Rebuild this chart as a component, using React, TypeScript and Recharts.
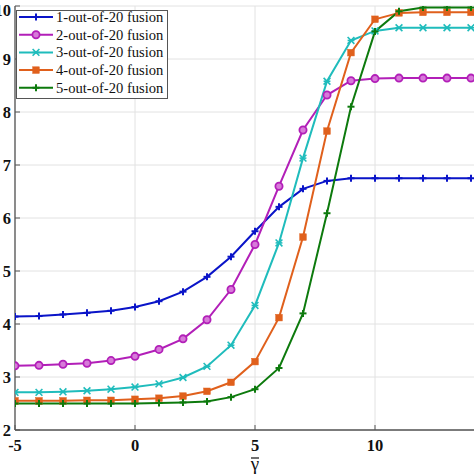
import React from 'react';
import { LineChart, Line, XAxis, YAxis, CartesianGrid } from 'recharts';

const gammaBar = [-5, -4, -3, -2, -1, 0, 1, 2, 3, 4, 5, 6, 7, 8, 9, 10, 11, 12, 13, 14];
const fusion1 = [4.14, 4.15, 4.18, 4.21, 4.25, 4.32, 4.43, 4.61, 4.89, 5.27, 5.75, 6.21, 6.55, 6.70, 6.75, 6.75, 6.75, 6.75, 6.75, 6.75];
const fusion2 = [3.21, 3.22, 3.24, 3.26, 3.31, 3.39, 3.52, 3.72, 4.08, 4.65, 5.50, 6.60, 7.66, 8.32, 8.59, 8.63, 8.64, 8.64, 8.64, 8.64];
const fusion3 = [2.71, 2.71, 2.72, 2.74, 2.77, 2.81, 2.87, 2.99, 3.20, 3.60, 4.35, 5.53, 7.13, 8.58, 9.35, 9.53, 9.59, 9.59, 9.59, 9.59];
const fusion4 = [2.55, 2.55, 2.55, 2.56, 2.56, 2.58, 2.60, 2.64, 2.73, 2.90, 3.29, 4.12, 5.64, 7.64, 9.12, 9.75, 9.87, 9.88, 9.88, 9.88];
const fusion5 = [2.50, 2.50, 2.50, 2.50, 2.50, 2.50, 2.51, 2.52, 2.54, 2.62, 2.77, 3.17, 4.20, 6.09, 8.10, 9.52, 9.90, 9.97, 9.97, 9.97];
const xTicks = [-5, 0, 5, 10];
const yTicks = [2, 3, 4, 5, 6, 7, 8, 9, 10];
const seriesNames = ['1-out-of-20 fusion', '2-out-of-20 fusion', '3-out-of-20 fusion', '4-out-of-20 fusion', '5-out-of-20 fusion'];

const data = gammaBar.map((g, i) => ({
  g,
  s1: fusion1[i],
  s2: fusion2[i],
  s3: fusion3[i],
  s4: fusion4[i],
  s5: fusion5[i],
}));

const COLORS = ['#0a14c8', '#b21fb8', '#1fbcbc', '#e0601c', '#0d7a0d'];
const KEYS = ['s1', 's2', 's3', 's4', 's5'];
const MARKERS = ['plus', 'circle', 'star', 'square', 'plus'];

function Marker({ type, cx, cy, color }: { type: string; cx: number; cy: number; color: string }) {
  if (cx == null || cy == null) return null;
  if (type === 'plus') {
    return (
      <g stroke={color} strokeWidth={2}>
        <line x1={cx - 3.5} y1={cy} x2={cx + 3.5} y2={cy} />
        <line x1={cx} y1={cy - 3.5} x2={cx} y2={cy + 3.5} />
      </g>
    );
  }
  if (type === 'circle') {
    return <circle cx={cx} cy={cy} r={3.6} fill="#d77ad9" stroke={color} strokeWidth={1.8} />;
  }
  if (type === 'square') {
    return <rect x={cx - 3.3} y={cy - 3.3} width={6.6} height={6.6} fill={color} stroke={color} strokeWidth={0.5} />;
  }
  const r = 3.4;
  return (
    <g stroke={color} strokeWidth={1.6}>
      <line x1={cx - r} y1={cy - r} x2={cx + r} y2={cy + r} />
      <line x1={cx - r} y1={cy + r} x2={cx + r} y2={cy - r} />
      <line x1={cx - r} y1={cy} x2={cx + r} y2={cy} />
    </g>
  );
}

const serif = '"Liberation Serif", "DejaVu Serif", serif';

function LegendBox() {
  return (
    <div
      style={{
        position: 'absolute',
        left: 16,
        top: 10,
        width: 152,
        height: 89,
        border: '1px solid #555',
        background: '#fff',
        boxSizing: 'border-box',
      }}
    >
      <svg width={150} height={87} style={{ position: 'absolute', left: 0, top: 0, overflow: 'visible' }}>
        {seriesNames.map((name, i) => {
          const y = 6 + i * 17.7;
          return (
            <g key={name}>
              <line x1={2} y1={y} x2={36} y2={y} stroke={COLORS[i]} strokeWidth={2} />
              <Marker type={MARKERS[i]} cx={19} cy={y} color={COLORS[i]} />
              <text x={39} y={y + 5} fontFamily={serif} fontSize={14.6} fill="#111">
                {name}
              </text>
            </g>
          );
        })}
      </svg>
    </div>
  );
}

const tickStyle = { fontFamily: serif, fontSize: 16.5, fontWeight: 'bold' as const, fill: '#111' };

function GammaLabel(props: any) {
  const vb = props.viewBox || {};
  const cx = (vb.x ?? 0) + (vb.width ?? 0) / 2;
  const base = (vb.y ?? 0) + (vb.height ?? 0) - 4;
  return (
    <g>
      <text x={cx} y={base} textAnchor="middle" fontFamily={serif} fontSize={19} fill="#111">
        γ
      </text>
      <line x1={cx - 4} y1={base - 12} x2={cx + 4} y2={base - 12} stroke="#111" strokeWidth={1.2} />
    </g>
  );
}

export default function App() {
  return (
    <div style={{ position: 'absolute', left: 0, top: 0, width: 474, height: 474, overflow: 'hidden', background: '#fff' }}>
      <LineChart width={495} height={474} data={data} margin={{ top: 6, right: 0, left: 0, bottom: 0 }}>
        <CartesianGrid stroke="#e2e2e2" strokeWidth={1} />
        <XAxis
          dataKey="g"
          type="number"
          domain={[-5, 15]}
          ticks={xTicks}
          allowDataOverflow
          height={44}
          stroke="#555"
          tickSize={-5}
          tickMargin={14}
          tick={tickStyle}
          axisLine={{ stroke: '#555', strokeWidth: 1.3 }}
          label={{ content: (p: any) => <GammaLabel {...p} /> }}
        />
        <XAxis
          xAxisId="top"
          dataKey="g"
          type="number"
          orientation="top"
          domain={[-5, 15]}
          ticks={xTicks}
          height={0}
          stroke="#555"
          tickSize={-5}
          tick={() => <g />}
          axisLine={{ stroke: '#555', strokeWidth: 1.3 }}
        />
        <YAxis
          type="number"
          domain={[2, 10]}
          ticks={yTicks}
          width={15}
          stroke="#555"
          tickSize={-5}
          tickMargin={9}
          tick={tickStyle}
          axisLine={{ stroke: '#555', strokeWidth: 1.3 }}
          allowDataOverflow
        />
        {KEYS.map((k, i) => (
          <Line
            key={k}
            dataKey={k}
            name={seriesNames[i]}
            stroke={COLORS[i]}
            strokeWidth={2}
            type="linear"
            isAnimationActive={false}
            xAxisId={0}
            dot={(p: any) => <Marker key={`${k}-${p.index}`} type={MARKERS[i]} cx={p.cx} cy={p.cy} color={COLORS[i]} />}
            activeDot={false}
          />
        ))}
      </LineChart>
      <LegendBox />
    </div>
  );
}
